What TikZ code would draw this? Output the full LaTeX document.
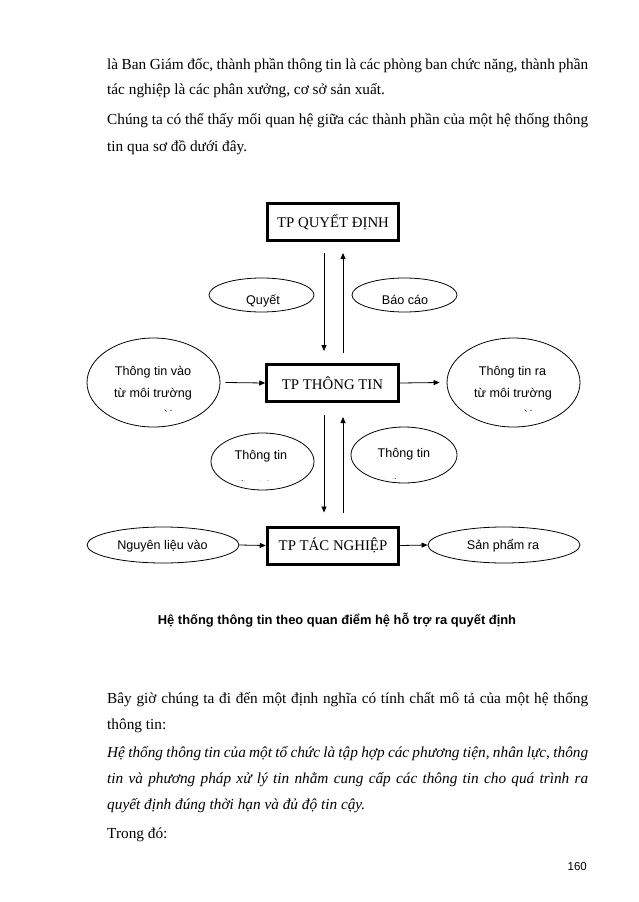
\documentclass[tikz,border=0pt]{standalone}
\usepackage{fontspec}
\setmainfont{Liberation Serif}
\newfontfamily\arialf{Liberation Sans}
\usetikzlibrary{arrows.meta,shapes.geometric,calc}
\begin{document}
\begin{tikzpicture}[x=1pt,y=-1pt,
  body/.style={anchor=base west,inner sep=0,font=\fontsize{15.3}{17}\selectfont},
  tpbox/.style={draw,line width=3pt,minimum width=131.5pt,minimum height=37pt,inner sep=0,font=\fontsize{14.8}{16}\selectfont},
  oval/.style={draw,ellipse,line width=0.8pt,inner sep=0},
  otext/.style={inner sep=0,anchor=base,font=\arialf\fontsize{12.6}{14}\selectfont},
  arr/.style={line width=0.8pt,-{Triangle[length=6pt,width=5pt]}}
]
\useasboundingbox[fill=white] (0,0) rectangle (638,902);

% paragraphs above
\node[body] (p1) at (107,69) {\makebox[481pt][s]{là Ban Giám đốc, thành phần thông tin là các phòng ban chức năng, thành phần}};
\node[body] (p2) at (107,94) {tác nghiệp là các phân xưởng, cơ sở sản xuất.};
\node[body] (p3) at (107,124) {\makebox[481pt][s]{Chúng ta có thể thấy mối quan hệ giữa các thành phần của một hệ thống thông}};
\node[body] (p4) at (107,151) {tin qua sơ đồ dưới đây.};

% boxes
\node[tpbox] (Q) at (333,222) {TP QUYẾT ĐỊNH};
\node[tpbox] (T) at (332.5,383) {TP THÔNG TIN};
\node[tpbox] (N) at (333,545.5) {TP TÁC NGHIỆP};

% ellipses
\node[oval,minimum width=105pt,minimum height=34pt] (EQ) at (261.5,295) {};
\node[otext] (tEQ) at (263,304) {Quyết};
\node[oval,minimum width=105pt,minimum height=34pt] (EB) at (404.5,295) {};
\node[otext] (tEB) at (405,304) {Báo cáo};

\node[oval,minimum width=133pt,minimum height=89pt] (L) at (153.5,382.5) {};
\node[otext] (tL1) at (153,375) {Thông tin vào};
\node[otext] (tL2) at (153,397) {từ môi trường};
\node[oval,minimum width=133pt,minimum height=89pt] (R) at (513.5,382.5) {};
\node[otext] (tR1) at (512.5,375) {Thông tin ra};
\node[otext] (tR2) at (513,397) {từ môi trường};

\node[oval,minimum width=103pt,minimum height=57pt] (ML) at (262.5,461.5) {};
\node[otext] (tML) at (261,459) {Thông tin};
\node[oval,minimum width=106pt,minimum height=56pt] (MR) at (404,455) {};
\node[otext] (tMR) at (404,457) {Thông tin};

\node[oval,minimum width=152pt,minimum height=36pt] (NL) at (163,545) {};
\node[otext] (tNL) at (162.5,549) {Nguyên liệu vào};
\node[oval,minimum width=152pt,minimum height=36pt] (NR) at (504,545) {};
\node[otext] (tNR) at (503,549) {Sản phẩm ra};

% clipped lines
\begin{scope}
\clip (120,405) rectangle (190,411.5);
\node[otext] (tL3) at (157,419.5) {ngoài};
\end{scope}
\begin{scope}
\clip (480,405) rectangle (550,411.5);
\node[otext] (tR3) at (517,419.5) {ngoài};
\end{scope}
\begin{scope}
\clip (225,474) rectangle (295,480);
\node[otext] (tML2) at (259,490) {điều hành};
\end{scope}
\begin{scope}
\clip (375,472) rectangle (400,478);
\node[otext] (tMR2) at (404,488) {kết quả};
\end{scope}

% vertical arrows
\draw[arr] ($(Q.south)+(-9,11)$) -- ($(T.north)+(-8.5,-12)$);
\draw[arr] ($(T.north)+(10.5,-10)$) -- ($(Q.south)+(10,11)$);
\draw[arr] ($(T.south)+(-8.5,12)$) -- ($(N.north)+(-9,-13)$);
\draw[arr] ($(N.north)+(10,-13)$) -- ($(T.south)+(10.5,14)$);

% horizontal arrows
\draw[arr] ($(L.east)+(5,0)$) -- (T.west);
\draw[arr] (T.east) -- ($(R.west)+(-7,0)$);
\draw[arr] (NL.east) -- (N.west);
\draw[arr] (N.east) -- (NR.west);

% caption
\node[anchor=base,inner sep=0,font=\arialf\bfseries\fontsize{12.9}{14}\selectfont] (cap) at (337,624) {Hệ thống thông tin theo quan điểm hệ hỗ trợ ra quyết định};

% paragraphs below
\node[body] (b1) at (107,703) {\makebox[481pt][s]{Bây giờ chúng ta đi đến một định nghĩa có tính chất mô tả của một hệ thống}};
\node[body] (b2) at (107,729) {thông tin:};
\node[body] (b3) at (107,757) {\itshape\makebox[481pt][s]{Hệ thống thông tin của một tổ chức là tập hợp các phương tiện, nhân lực, thông}};
\node[body] (b4) at (107,783) {\itshape\makebox[481pt][s]{tin và phương pháp xử lý tin nhằm cung cấp các thông tin cho quá trình ra}};
\node[body] (b5) at (107,809) {\itshape quyết định đúng thời hạn và đủ độ tin cậy.};
\node[body] (b6) at (107,838) {Trong đó:};
\node[anchor=base east,inner sep=0,font=\arialf\fontsize{11.5}{13}\selectfont] (pg) at (587,870) {160};
\end{tikzpicture}
\end{document}
